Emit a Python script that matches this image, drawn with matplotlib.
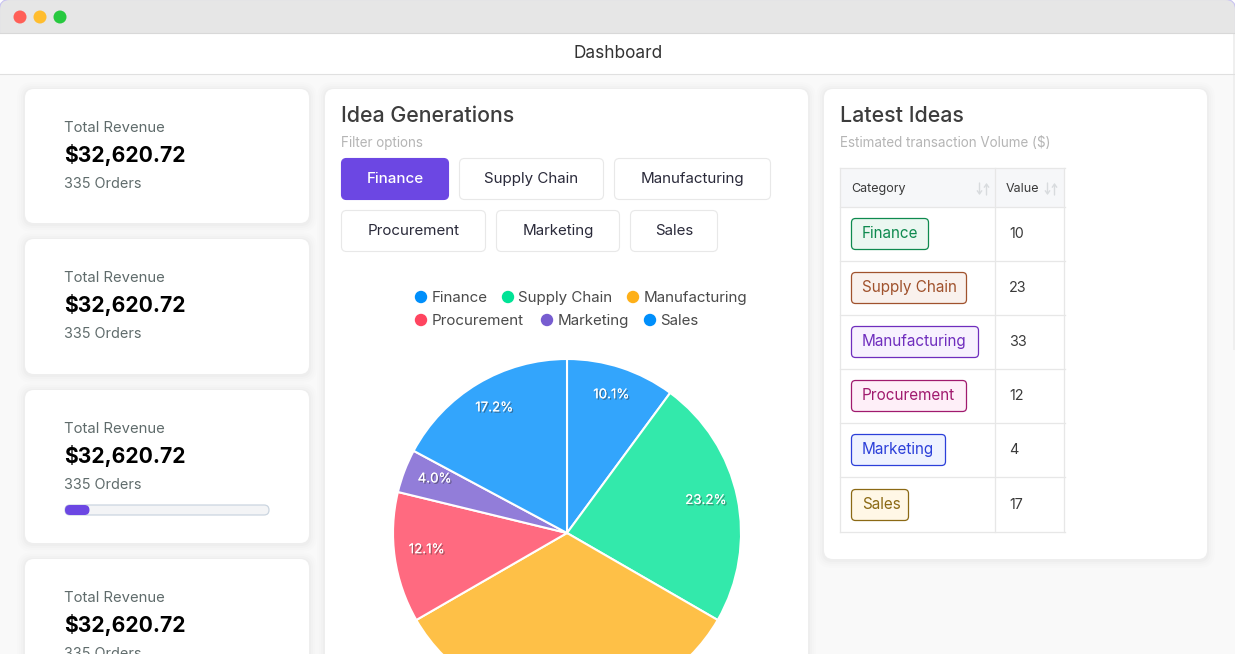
import matplotlib
matplotlib.use("Agg")
import matplotlib.pyplot as plt
import matplotlib.patheffects as pe
from matplotlib.patches import FancyBboxPatch, Circle, Rectangle

plt.rcParams["font.family"] = ["Inter", "DejaVu Sans"]

# Paths / sizes
W, H = 1235, 654

# ---------------------------------------------------------
# DATA
# ---------------------------------------------------------
categories = ["Finance", "Supply Chain", "Manufacturing", "Procurement", "Marketing", "Sales"]
values = [10, 23, 33, 12, 4, 17]
slice_colors = ["#33A5FC", "#33E9AB", "#FEC047", "#FF6A80", "#927DD9", "#33A5FC"]
legend_colors = ["#008FFB", "#00E396", "#FEB019", "#FF4560", "#775DD0", "#008FFB"]

kpi_label = "Total Revenue"
kpi_value = "$32,620.72"
kpi_orders = "335 Orders"
progress_pct = 12

tag_borders = ["#0E8A4F", "#A0522D", "#6F2DBD", "#A01A6E", "#2B3FD9", "#8B6914"]
tag_fills = ["#EBF7F1", "#F9F1ED", "#F7F1FE", "#FEEFF8", "#EEF2FF", "#FFF7E6"]

# ---------------------------------------------------------
# LAYOUT (pixels)
# ---------------------------------------------------------
button_boxes = [(341, 158, 108), (459, 158, 145), (614, 158, 157),
                (341, 210, 145), (496, 210, 124), (630, 210, 88)]
legend_spots = [(421, 297), (508, 297), (633, 297), (421, 320), (547, 320), (650, 320)]
tag_boxes = [(218, 78), (272, 116), (326, 128), (380, 116), (434, 95), (489, 58)]
row_lines = [167.5, 207, 261, 315, 369, 423, 477, 532]

fig = plt.figure(figsize=(W / 100, H / 100), dpi=100, facecolor="#F9F9F9")
ax = fig.add_axes([0, 0, 1, 1])
ax.set_xlim(0, W)
ax.set_ylim(H, 0)
ax.axis("off")


def rbox(x, y, w, h, r=8, fc="white", ec="none", lw=0, z=2):
    p = FancyBboxPatch((x + r, y + r), w - 2 * r, h - 2 * r,
                       boxstyle=f"round,pad={r},rounding_size={r}",
                       fc=fc, ec=ec, lw=lw, zorder=z)
    ax.add_patch(p)
    return p


def card(x, y, w, h):
    # soft css-like shadow
    for grow, a in [(8, 0.006), (6, 0.008), (4, 0.012), (2, 0.016)]:
        rbox(x - grow, y - grow + 1, w + 2 * grow, h + 2 * grow, r=8 + grow, fc=(0, 0, 0, a), z=1)
    rbox(x, y, w, h, r=9)


def txt(x, y, s, size, color="#3A3A3A", weight="normal", ha="left", z=5, **kw):
    # y is the middle of the capitals, so rows stay level whatever the letters are
    return ax.text(x, y - 0.7 + 0.505 * size, s, fontsize=size, color=color, fontweight=weight,
                   ha=ha, va="baseline", zorder=z, **kw)


def sort_arrow(x, y_from, y_to):
    ax.annotate("", xy=(x, y_to), xytext=(x, y_from), zorder=5,
                arrowprops=dict(arrowstyle="->,head_length=0.22,head_width=0.16",
                                color="#D8DBDE", lw=1.0, shrinkA=0, shrinkB=0))


# ---------------------------------------------------------
# WINDOW CHROME
# ---------------------------------------------------------
ax.add_patch(Rectangle((0, 0), W, 33, fc="white", ec="none", zorder=0.5))
rbox(-0.5, -0.5, W + 1, 50, r=10, fc="#E6E6E6", ec="#C9C3F2", lw=0.8, z=0.6)
ax.add_patch(Rectangle((0, 32.5), W, 42, fc="white", ec="none", zorder=1))
ax.add_patch(Rectangle((1233, 33), 2, 317, fc="#EFEFEF", ec="none", zorder=1.5))
ax.plot([0, W], [32.5, 32.5], color="#D8D8D8", lw=0.8, zorder=2)
ax.plot([0, W], [74, 74], color="#E0E0E0", lw=0.8, zorder=2)
for cx, col in zip([20, 40, 60], ["#FF5F57", "#FFBD2E", "#27C93F"]):
    ax.add_patch(Circle((cx, 17), 6.5, fc=col, ec="none", zorder=3))
txt(618.5, 52, "Dashboard", 12.4, color="#333333", ha="center")

# ---------------------------------------------------------
# KPI CARDS
# ---------------------------------------------------------
for top, height in [(89, 134), (239, 135), (390, 153), (559, 140)]:
    card(25, top, 284, height)
    txt(64, top + 38, kpi_label, 10.7, color="#5F6B6B")
    txt(64, top + 66, kpi_value, 15.2, color="black", weight="bold")
    txt(64, top + 94, kpi_orders, 10.4, color="#5F6B6B")

rbox(65, 505, 204, 10, r=5, fc="#F3F4F6", ec="#CBD5E0", lw=0.9, z=3)
rbox(65, 505, 204 * progress_pct / 100, 10, r=5, fc="#6C47E3", z=4)

# ---------------------------------------------------------
# MIDDLE CARD
# ---------------------------------------------------------
card(325, 89, 483, 620)
txt(341, 115, "Idea Generations", 15.4, color="#3D3D3D", weight="medium")
txt(341, 143, "Filter options", 9.7, color="#B5B5B5")
for i, (name, (bx, by, bw)) in enumerate(zip(categories, button_boxes)):
    active = i == 0
    rbox(bx + 0.5, by + 0.5, bw - 1, 41, r=5, fc="#6C47E3" if active else "white",
         ec="#6C47E3" if active else "#E8E8E8", lw=0.8, z=3)
    txt(bx + bw / 2, by + 20, name, 10.9, color="white" if active else "#2A2A3A",
        weight="medium" if active else "normal", ha="center")

for name, col, (lx, ly) in zip(categories, legend_colors, legend_spots):
    ax.add_patch(Circle((lx, ly), 6.2, fc=col, ec="none", zorder=4))
    txt(lx + 10.5, ly, name, 10.9, color="#4A4A4A")

# pie axes runs off the bottom of the figure like the screenshot
R = 174
cx, cy = 567, 533
pie_ax = fig.add_axes([(cx - R) / W, 1 - (cy + R) / H, 2 * R / W, 2 * R / H])
pie_ax.set_zorder(5)
wedges, _, autotexts = pie_ax.pie(
    values, colors=slice_colors, startangle=90, counterclock=False, radius=1,
    autopct="%.1f%%", pctdistance=0.815,
    wedgeprops={"edgecolor": "white", "linewidth": 1.5},
)
pie_ax.set_xlim(-1, 1)
pie_ax.set_ylim(-1, 1)
for at in autotexts:
    at.set_color("white")
    at.set_fontsize(9.6)
    px, py = at.get_position()
    at.set_position((px, py + 3 / R))
    at.set_path_effects([pe.withSimplePatchShadow(offset=(1, -1), shadow_rgbFace="#333333", alpha=0.5),
                         pe.Normal()])
# the Manufacturing label sits below the visible area
autotexts[2].set_visible(False)

# ---------------------------------------------------------
# TABLE CARD
# ---------------------------------------------------------
card(824, 89, 383, 470)
txt(840, 115, "Latest Ideas", 15.4, color="#3D3D3D", weight="medium")
txt(840, 143, "Estimated transaction Volume ($)", 9.7, color="#B5B5B5")

ax.add_patch(Rectangle((840, 167.5), 224.5, 39.5, fc="#F6F7F9", ec="none", zorder=3))
for y in row_lines:
    ax.plot([839.5, 1064.5], [y, y], color="#E7E7E7", lw=0.9, zorder=4)
for x in [840, 995, 1064]:
    ax.plot([x, x], [167.5, 532], color="#E7E7E7", lw=0.9, zorder=4)

txt(851, 188, "Category", 9, color="#3A3A3A")
txt(1006, 188, "Value", 9, color="#3A3A3A")
for x in [983, 1051]:
    sort_arrow(x - 3.5, 183, 195)
    sort_arrow(x + 3.5, 195, 183)

for name, val, bc, fc, (ty, tw) in zip(categories, values, tag_borders, tag_fills, tag_boxes):
    rbox(851.5, ty + 0.5, tw - 1, 31, r=4, fc=fc, ec=bc, lw=0.9, z=5)
    txt(862, ty + 15, name, 11, color=bc, z=6)
    txt(1009, ty + 15, str(val), 10.3, color="#3A3A3A")

fig.savefig("out.png", dpi=100, facecolor=fig.get_facecolor())
